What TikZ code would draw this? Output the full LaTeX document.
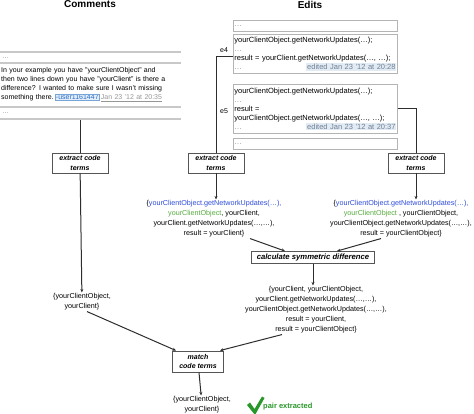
\documentclass[tikz,border=0pt]{standalone}
\usepackage{fontspec}
\setmainfont{Liberation Sans}
\usetikzlibrary{arrows.meta}
\definecolor{codeblue}{RGB}{45,75,215}
\definecolor{codegreen}{RGB}{85,170,60}
\definecolor{barc}{RGB}{200,200,200}
\definecolor{eboxline}{RGB}{180,180,180}
\definecolor{dotsc}{RGB}{140,140,140}
\definecolor{edbg}{RGB}{226,235,243}
\definecolor{edtext}{RGB}{110,128,150}
\definecolor{userbg}{RGB}{228,238,250}
\definecolor{userline}{RGB}{120,165,215}
\definecolor{userblue}{RGB}{40,110,200}
\definecolor{dategray}{RGB}{150,150,150}
\definecolor{connc}{RGB}{45,45,45}
\definecolor{boxline}{RGB}{85,85,85}
\definecolor{checkgreen}{RGB}{40,150,40}
\newcommand\edtag[1]{{\setlength\fboxsep{0.8pt}\colorbox{edbg}{\color{edtext}#1}}}
\newcommand\userbox[1]{{\setlength\fboxsep{0.6pt}\setlength\fboxrule{0.5pt}\fcolorbox{userline}{userbg}{\color{userblue}#1}}}
\newcommand\gdots{{\color{dotsc}…}}
\begin{document}
\begin{tikzpicture}[x=1pt,y=-1pt,
  every node/.style={font=\fontsize{7}{9}\selectfont},
  title/.style={font=\fontsize{10}{11}\selectfont\bfseries},
  xbox/.style={draw=boxline, line width=0.9pt, fill=white, align=center,
    font=\fontsize{7}{9.5}\selectfont\bfseries\itshape, minimum width=56, minimum height=20, inner sep=1pt},
  ebox/.style={draw=eboxline, line width=0.8pt, anchor=north west, text width=162,
    inner xsep=1pt, inner ysep=2pt, align=left, font=\fontsize{7.5}{9}\selectfont},
  terms/.style={align=center, inner sep=1pt, font=\fontsize{7.2}{10}\selectfont},
  bar/.style={draw=barc, line width=1.6pt},
  conn/.style={draw=connc, line width=1pt},
  arr/.style={conn, -{Stealth[length=3.5pt,width=3pt]}},
]
\useasboundingbox (0,0) rectangle (474,414);

% titles
\node[title] (tc) at (90,4.5) {Comments};
\node[title] (te) at (310,4.5) {Edits};

% comments block
\draw[bar] (0,52) -- (181,52);
\node[anchor=west, inner sep=1pt] (cd1) at (1,58) {\gdots};
\draw[bar] (0,63) -- (181,63);
\node[anchor=north west, inner sep=0pt, align=left, text width=185] (ctext) at (1,67.5)
 {In your example you have "yourClientObject" and\\
  then two lines down you have "yourClient" is there a\\
  difference? I wanted to make sure I wasn't missing\\
  something there.\,\userbox{-user1161447}\,{\color{dategray}\underline{Jan 23 '12 at 20:35}}};
\draw[bar] (0,107) -- (181,107);
\node[anchor=west, inner sep=1pt] (cd2) at (1,113) {\gdots};
\draw[bar] (0,119) -- (181,119);
\coordinate (cbot) at (80,120);

% edits boxes
\node[ebox, minimum height=11] (b1) at (233,20) {\gdots};
\node[ebox, minimum height=39] (b2) at (233,34)
 {yourClientObject.getNetworkUpdates(…);\\
  \gdots\\
  result = yourClient.getNetworkUpdates(…, …);\\
  \gdots\hfill\edtag{edited Jan 23 '12 at 20:28}};
\node[ebox, minimum height=49] (b3) at (233,84)
 {yourClientObject.getNetworkUpdates(…);\\
  \gdots\\
  result =\\
  yourClientObject.getNetworkUpdates(…, …);\\
  \gdots\hfill\edtag{edited Jan 23 '12 at 20:37}};
\node[ebox, minimum height=11] (b4) at (233,138) {\gdots};
\node[inner sep=0pt] (e4) at (224,50) {e4};
\node[inner sep=0pt] (e5) at (224,111) {e5};

% extract boxes
\node[xbox] (x1) at (80,163) {extract code\\terms};
\node[xbox] (x2) at (216,163) {extract code\\terms};
\node[xbox] (x3) at (416,163) {extract code\\terms};

% term sets
\node[terms] (t1) at (82,302) {\{yourClientObject,\\yourClient\}};
\node[terms] (t2) at (214,219)
 {\{{\color{codeblue}yourClientObject.getNetworkUpdates(…),}\\
  {\color{codegreen}yourClientObject}, yourClient,\\
  yourClient.getNetworkUpdates(…,…),\\
  result = yourClient\}};
\node[terms] (t3) at (401,219)
 {\{{\color{codeblue}yourClientObject.getNetworkUpdates(…),}\\
  {\color{codegreen}yourClientObject} , yourClientObject,\\
  yourClientObject.getNetworkUpdates(…,…),\\
  result = yourClientObject\}};
\node[xbox, minimum width=0, minimum height=12, inner sep=2pt, inner xsep=5pt,
  font=\fontsize{7.7}{9}\selectfont\bfseries\itshape] (calc) at (313,257.5) {calculate symmetric difference};
\node[terms] (t4) at (316,310)
 {\{yourClient, yourClientObject,\\
  yourClient.getNetworkUpdates(…,…),\\
  yourClientObject.getNetworkUpdates(…,…),\\
  result = yourClient,\\
  result = yourClientObject\}};
\node[xbox, minimum width=51, minimum height=21] (m) at (198,361.5) {match\\code terms};
\node[terms] (res) at (202,405) {\{yourClientObject,\\yourClient\}};

% check + label
\fill[checkgreen] (247,405) -- (250,402.5) -- (254.5,409) -- (262,396.5) -- (264.5,398) -- (255,415) -- cycle;
\node[anchor=west, inner sep=0pt, text=checkgreen, font=\fontsize{7.5}{9}\selectfont\bfseries] (pe) at (263,407) {pair extracted};

% connectors
\draw[conn] (cbot) -- (x1.north);
\draw[arr] (x1) -- (t1);
\draw[conn] ([yshift=-2.5pt]b2.west) -| (x2.north);
\draw[conn] (b3.east) -| (x3.north);
\draw[arr] (x2.south) -- (x2.south |- t2.north);
\draw[arr] (x3.south) -- (x3.south |- t3.north);
\draw[arr] ([xshift=36pt]t2.south) -- ([xshift=-28pt]calc.north);
\draw[arr] ([xshift=-20pt]t3.south) -- ([xshift=24pt]calc.north);
\draw[arr] (calc.south) -- (calc.south |- t4.north);
\draw[arr] ([xshift=-34pt]t4.south) -- ([xshift=22pt]m.north);
\draw[arr] ([xshift=5pt]t1.south) -- ([xshift=-22pt]m.north);
\draw[arr] (m) -- (res);
\end{tikzpicture}
\end{document}
